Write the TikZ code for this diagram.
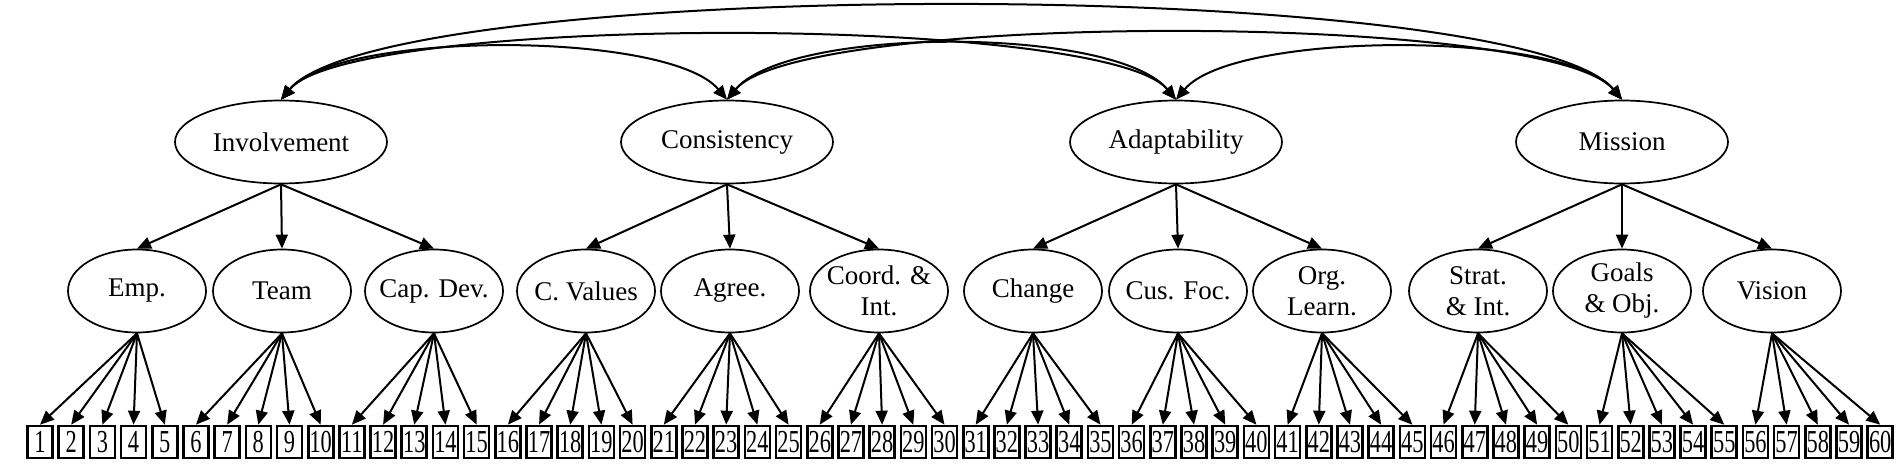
\documentclass[tikz,border=0pt]{standalone}
\usepackage{fontspec}
\setmainfont{Liberation Serif}
\usepackage{graphicx}
\usetikzlibrary{arrows.meta,shapes.geometric}
\newcommand{\itemnum}[1]{\scalebox{0.7}[1]{#1}}

\begin{document}
\begin{tikzpicture}[
  x=0.5pt,y=0.5pt,
  >={Triangle[length=7pt,width=6pt]},
  factor/.style={draw,ellipse,line width=0.85pt,minimum width=106pt,
                 minimum height=41.5pt,inner sep=0pt,
                 font=\fontsize{13.5}{15}\selectfont},
  facet/.style={draw,ellipse,line width=0.85pt,minimum width=69pt,
                minimum height=41.5pt,inner sep=-4pt,align=center,
                font=\fontsize{13.5}{15.5}\selectfont},
  itembox/.style={draw,line width=1.3pt,minimum width=12.5pt,
                  minimum height=16pt,inner sep=0pt,
                  font=\fontsize{16}{16}\selectfont},
  loading/.style={->,line width=1pt},
  corrline/.style={<->,line width=1pt}
]
\useasboundingbox (0,0) rectangle (1901,-465);
\node[factor] (inv) at (281,-142) {Involvement};
\node[factor] (con) at (727,-142) {Consistency};
\node[factor] (ada) at (1176,-142) {Adaptability};
\node[factor] (mis) at (1622,-142) {Mission};
\foreach \fac/\x/\txt in {emp/137/Emp., team/282/Team, cap/434/Cap. Dev.,
    cv/586/C. Values, agr/730/Agree., coo/879/{Coord. \&\\Int.},
    chg/1033/Change, cus/1178/Cus. Foc., org/1322/{Org.\\Learn.},
    str/1478/{Strat.\\\& Int.}, goa/1622/{Goals\\\& Obj.}, vis/1772/Vision}
  \node[facet] (\fac) at (\x,-291) {\txt};
\foreach \i in {1,...,60}
  \node[itembox] (b\i) at ({40+31.19*(\i-1)},-442) {\itemnum{\i}};
\foreach \top/\fac in {inv/emp,inv/team,inv/cap,con/cv,con/agr,con/coo,
    ada/chg,ada/cus,ada/org,mis/str,mis/goa,mis/vis}
  \draw[loading] (\top.south) -- (\fac.north);
\foreach \fac [count=\k from 0] in {emp,team,cap,cv,agr,coo,chg,cus,org,str,goa,vis}
  \foreach \j in {1,...,5}{
    \pgfmathtruncatemacro\n{5*\k+\j}
    \draw[loading] (\fac.south) -- (b\n.north);
  }
\draw[corrline] (inv.north) to[out=50,in=130,looseness=0.52] (con.north);
\draw[corrline] (inv.north) to[out=50,in=130,looseness=0.32] (ada.north);
\draw[corrline] (inv.north) to[out=50,in=130,looseness=0.31] (mis.north);
\draw[corrline] (con.north) to[out=50,in=130,looseness=0.55] (ada.north);
\draw[corrline] (con.north) to[out=50,in=130,looseness=0.33] (mis.north);
\draw[corrline] (ada.north) to[out=50,in=130,looseness=0.52] (mis.north);
\end{tikzpicture}
\end{document}
